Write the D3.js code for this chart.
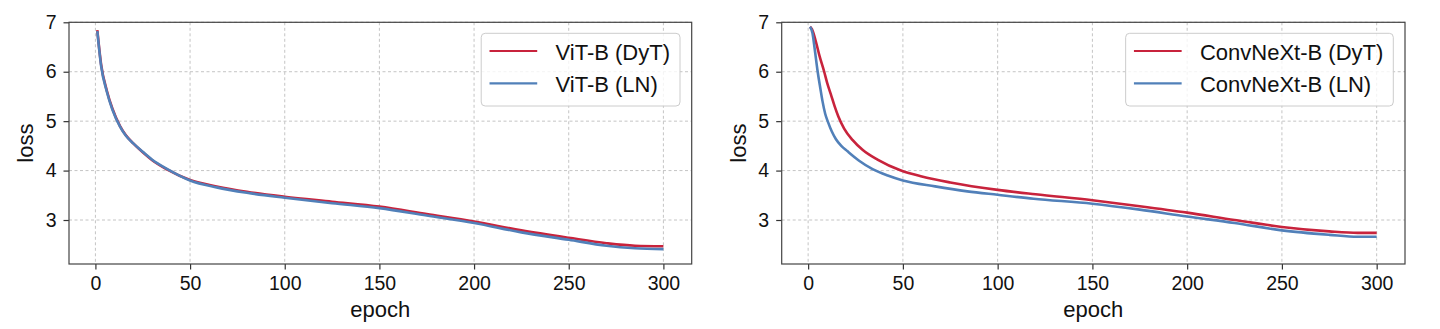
<!DOCTYPE html>
<html>
<head>
<meta charset="utf-8">
<script src="https://cdn.jsdelivr.net/npm/d3@7"></script>
<style>
  html, body { margin: 0; padding: 0; background: #fff; }
  svg { display: block; font-family: "Liberation Sans", Arial, Helvetica, sans-serif; }
</style>
</head>
<body>
<div id="chart"></div>
<script>
// loss curves
var vitEpochs = [1, 3, 6, 9, 13, 16, 20, 25, 30, 38, 50, 64, 80, 100, 125, 150, 175, 200, 225, 250, 270, 285, 300];
var vitDyT = [6.84, 6.15, 5.62, 5.25, 4.90, 4.72, 4.55, 4.37, 4.21, 4.02, 3.81, 3.68, 3.57, 3.47, 3.37, 3.27, 3.12, 2.97, 2.79, 2.64, 2.53, 2.48, 2.47];
var vitLN  = [6.82, 6.12, 5.60, 5.23, 4.89, 4.71, 4.55, 4.38, 4.22, 4.03, 3.80, 3.66, 3.55, 3.45, 3.34, 3.24, 3.09, 2.94, 2.75, 2.60, 2.48, 2.43, 2.41];

var convDyTEpochs = [1, 2, 4, 6, 8.4, 10, 12, 14, 16, 19, 23.4, 28.7, 36.6, 49, 60, 75, 100, 120, 150, 175, 200, 225, 250, 275, 290, 300];
var convDyT = [6.91, 6.86, 6.62, 6.32, 6.01, 5.78, 5.54, 5.30, 5.09, 4.85, 4.62, 4.42, 4.22, 4.00, 3.88, 3.76, 3.61, 3.52, 3.40, 3.28, 3.15, 3.00, 2.86, 2.77, 2.74, 2.74];
var convLNEpochs = [1, 2.3, 3.5, 5, 6.5, 7.6, 9, 10.5, 12.5, 14.6, 17.5, 20.8, 26.9, 34, 42, 50, 67, 84, 100, 119, 150, 175, 200, 225, 250, 275, 290, 300];
var convLN = [6.91, 6.78, 6.45, 6.01, 5.65, 5.40, 5.15, 4.98, 4.79, 4.64, 4.50, 4.39, 4.20, 4.03, 3.90, 3.80, 3.68, 3.58, 3.51, 3.43, 3.33, 3.21, 3.07, 2.94, 2.79, 2.70, 2.66, 2.66];

var xTicks = [0, 50, 100, 150, 200, 250, 300];
var yTicks = [3, 4, 5, 6, 7];
var vitNames = ["ViT-B (DyT)", "ViT-B (LN)"];
var convNames = ["ConvNeXt-B (DyT)", "ConvNeXt-B (LN)"];

var red = "#c8233c";
var blue = "#5180b9";

var W = 1440, H = 329;
var svg = d3.select("#chart").append("svg")
    .attr("width", W)
    .attr("height", H);

function panel(left, right, series, names) {
    var top = 22.3, bottom = 264;
    var x = d3.scaleLinear().domain([-13.95, 314.95]).range([left, right]);
    var y = d3.scaleLinear().domain([2.11, 7]).range([bottom, top]);
    var g = svg.append("g");

    // grid
    g.selectAll(".gx").data(xTicks).enter().append("line")
        .attr("x1", function(d) { return x(d); })
        .attr("x2", function(d) { return x(d); })
        .attr("y1", top).attr("y2", bottom)
        .attr("stroke", "#c4c4c4").attr("stroke-width", 1)
        .attr("stroke-dasharray", "3,2.5");
    g.selectAll(".gy").data(yTicks).enter().append("line")
        .attr("x1", left).attr("x2", right)
        .attr("y1", function(d) { return y(d); })
        .attr("y2", function(d) { return y(d); })
        .attr("stroke", "#c4c4c4").attr("stroke-width", 1)
        .attr("stroke-dasharray", "3,2.5");

    // curves
    var line = d3.line()
        .x(function(d) { return x(d[0]); })
        .y(function(d) { return y(d[1]); })
        .curve(d3.curveMonotoneX);
    series.forEach(function(s) {
        var pts = s.epochs.map(function(e, i) { return [e, s.values[i]]; });
        g.append("path")
            .attr("d", line(pts))
            .attr("fill", "none")
            .attr("stroke", s.color)
            .attr("stroke-width", 2.6)
            .attr("stroke-linejoin", "round");
    });

    // axes
    var xAxis = g.append("g")
        .attr("transform", "translate(0," + bottom + ")")
        .call(d3.axisBottom(x).tickValues(xTicks).tickFormat(d3.format("d"))
            .tickSize(5.5).tickPadding(7).tickSizeOuter(0));
    var yAxis = g.append("g")
        .attr("transform", "translate(" + left + ",0)")
        .call(d3.axisLeft(y).tickValues(yTicks).tickFormat(d3.format("d"))
            .tickSize(5.5).tickPadding(7).tickSizeOuter(0));
    [xAxis, yAxis].forEach(function(a) {
        a.select(".domain").remove();
        a.selectAll(".tick line").attr("stroke", "#333").attr("stroke-width", 1.2);
        a.selectAll(".tick text").attr("fill", "#111")
            .style("font-size", "19.5px")
            .style("font-family", "'Liberation Sans', Arial, sans-serif");
    });

    // frame
    g.append("rect")
        .attr("x", left).attr("y", top)
        .attr("width", right - left).attr("height", bottom - top)
        .attr("fill", "none").attr("stroke", "#444").attr("stroke-width", 1.2);

    // labels
    g.append("text")
        .attr("x", (left + right) / 2).attr("y", 317)
        .attr("text-anchor", "middle")
        .style("font-size", "22px").attr("fill", "#111")
        .text("epoch");
    g.append("text")
        .attr("transform", "translate(" + (left - 36) + "," + ((top + bottom) / 2) + ") rotate(-90)")
        .attr("text-anchor", "middle")
        .style("font-size", "22px").attr("fill", "#111")
        .text("loss");

    // legend
    var lg = g.append("g");
    var box = lg.append("rect");
    var texts = [];
    names.forEach(function(n, i) {
        var ly = 51 + i * 32.3;
        lg.append("line")
            .attr("x1", 0).attr("x2", 47.7)
            .attr("y1", ly).attr("y2", ly)
            .attr("stroke", series[i].color).attr("stroke-width", 2.2);
        texts.push(lg.append("text")
            .attr("x", 66).attr("y", ly + 8.5)
            .style("font-size", "22px").attr("fill", "#111")
            .text(n));
    });
    var tw = d3.max(texts, function(t) { return t.node().getComputedTextLength(); });
    var bw = 8.3 + 66 + tw + 10;
    var bx = right - 11.7 - bw;
    box.attr("x", -8.3).attr("y", 33.3)
        .attr("width", bw).attr("height", 72.7)
        .attr("rx", 4).attr("ry", 4)
        .attr("fill", "#fff").attr("fill-opacity", 0.8)
        .attr("stroke", "#cccccc").attr("stroke-width", 1);
    lg.attr("transform", "translate(" + (bx + 8.3) + ",0)");
}

panel(69, 691.7, [
    { epochs: vitEpochs, values: vitDyT, color: red },
    { epochs: vitEpochs, values: vitLN, color: blue }
], vitNames);

panel(781.7, 1405, [
    { epochs: convDyTEpochs, values: convDyT, color: red },
    { epochs: convLNEpochs, values: convLN, color: blue }
], convNames);
</script>
</body>
</html>
